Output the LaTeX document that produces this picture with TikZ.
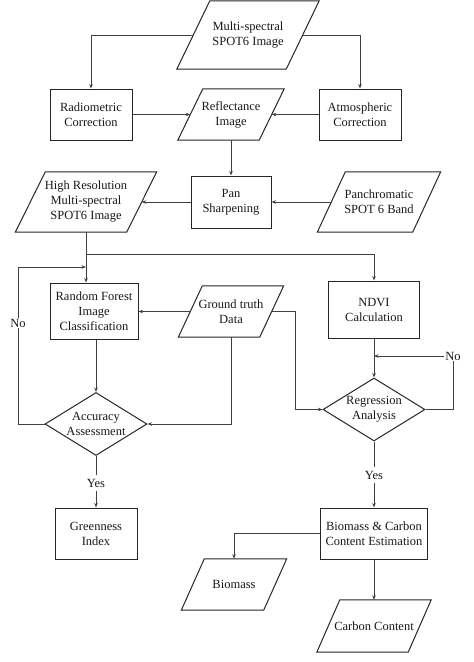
\documentclass[tikz,border=0pt]{standalone}
\usepackage{fontspec}
\setmainfont{Liberation Serif}
\usetikzlibrary{shapes.geometric,arrows.meta,calc}

\begin{document}
\begin{tikzpicture}[x=1pt,y=-1pt,
    every node/.style={font=\fontsize{12.5}{15}\selectfont, text=black!90, align=center},
    process/.style={rectangle, draw=black!85, line width=1pt, inner sep=0pt},
    data/.style={rectangle, inner sep=0pt},
    decision/.style={diamond, draw=black!85, line width=1pt, aspect=1.6, inner sep=0pt, minimum width=102pt, minimum height=63pt},
    flow/.style={draw=black!75, line width=0.9pt},
    arr/.style={flow, -{Stealth[length=4.5pt,width=3.5pt]}}]
    \useasboundingbox (0,0) rectangle (474,662);

    % processes
    \node[process, minimum width=82pt, minimum height=51pt] (radio) at (91,114.5) {Radiometric\\Correction};
    \node[process, minimum width=82pt, minimum height=51pt] (atmos) at (360,114.5) {Atmospheric\\Correction};
    \node[process, minimum width=80pt, minimum height=52pt] (pan) at (231,202) {Pan\\Sharpening};
    \node[process, minimum width=88pt, minimum height=56pt] (rf) at (94,311) {Random Forest\\Image\\Classification};
    \node[process, minimum width=91pt, minimum height=57pt] (ndvi) at (374,309.5) {NDVI\\Calculation};
    \node[process, minimum width=82pt, minimum height=51pt] (green) at (96,533.5) {Greenness\\Index};
    \node[process, minimum width=107pt, minimum height=51pt] (bce) at (374,533.5) {Biomass \& Carbon\\Content Estimation};

    % data
    \node[data, minimum width=109pt, minimum height=68pt] (ms) at (248,35) {Multi-spectral\\SPOT6 Image};
    \node[data, minimum width=81pt, minimum height=51pt] (refl) at (231,114.5) {Reflectance\\Image};
    \node[data, minimum width=111pt, minimum height=60pt] (hires) at (86,202) {High Resolution\\Multi-spectral\\SPOT6 Image};
    \node[data, minimum width=95pt, minimum height=60pt] (panchro) at (379,202) {Panchromatic\\SPOT 6 Band};
    \node[data, minimum width=81pt, minimum height=51pt] (gt) at (231,311.5) {Ground truth\\Data};
    \node[data, minimum width=82pt, minimum height=51pt] (bio) at (234,584.5) {Biomass};
    \node[data, minimum width=91pt, minimum height=52pt] (cc) at (374,626) {Carbon Content};
    \foreach \n/\s in {ms/16.5, refl/12.5, hires/15, panchro/14, gt/12, bio/11.5, cc/11.5} {
        \draw[draw=black!85, line width=1pt] ([xshift=\s pt]\n.north west) -- ([xshift=\s pt]\n.north east)
            -- ([xshift=-\s pt]\n.south east) -- ([xshift=-\s pt]\n.south west) -- cycle;
    }

    % decisions
    \node[decision] (acc) at (96,424) {Accuracy\\Assessment};
    \node[decision] (reg) at (374,409.5) {Regression\\Analysis};

    \node (yes1) at (96,483) {Yes};
    \node (yes2) at (374,475) {Yes};
    \node[inner sep=1pt] (no1) at (18,323) {No};
    \node[inner sep=1pt] (no2) at (453,356) {No};
    \coordinate (split) at (86,254);
    \coordinate (loopin) at (86,267);

    % connectors
    \draw[arr] (ms.west) -| (radio.north);
    \draw[arr] (ms.east) -| (atmos.north);
    \draw[arr] (radio) -- (refl);
    \draw[arr] (atmos) -- (refl);
    \draw[arr] (refl) -- (pan);
    \draw[arr] (panchro) -- (pan);
    \draw[arr] (pan) -- (hires);
    \draw[arr] (hires.south) -- (hires.south |- rf.north);
    \draw[arr] (split) -| (ndvi.north);
    \draw[arr] (gt.west) -- (gt.west -| rf.east);
    \draw[arr] (gt.south) |- (acc.east);
    \draw[arr] (gt.east) -- ++(24,0) |- (reg.west);
    \draw[arr] (acc.north |- rf.south) -- (acc.north);
    \draw[flow] (acc.west) -| (no1);
    \draw[arr] (no1) |- (loopin);
    \draw[arr] (ndvi) -- (reg);
    \draw[flow] (reg.east) -| (no2);
    \draw[arr] (no2) -- (no2 -| ndvi.south);
    \draw[flow] (acc) -- (yes1);
    \draw[arr] (yes1) -- (green);
    \draw[flow] (reg) -- (yes2);
    \draw[arr] (yes2) -- (bce);
    \draw[arr] (bce.west) -| (bio.north);
    \draw[arr] (bce) -- (cc);
\end{tikzpicture}
\end{document}
